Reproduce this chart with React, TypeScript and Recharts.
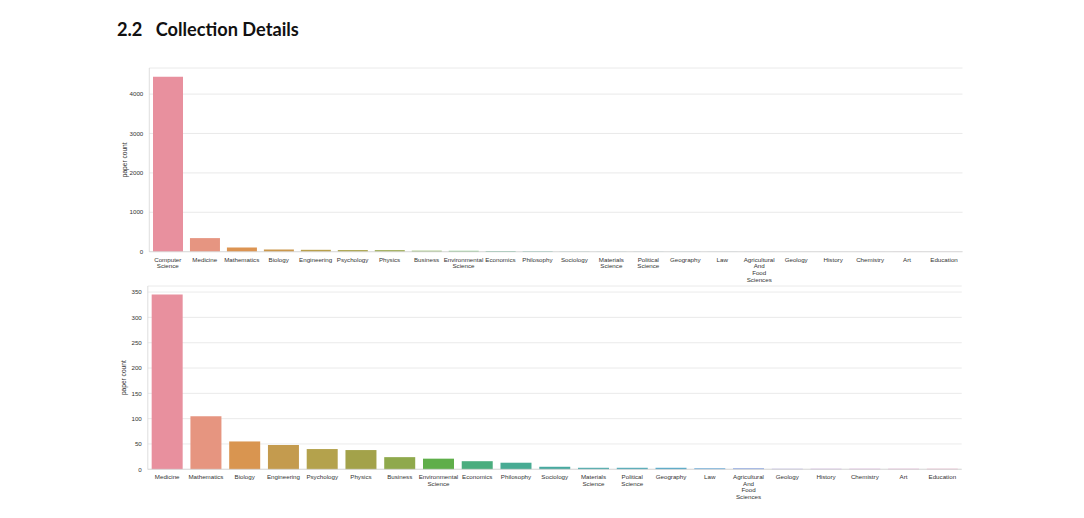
import React from 'react';
import { BarChart, Bar, XAxis, YAxis, CartesianGrid, Cell } from 'recharts';

const topCategories = [
  'Computer Science', 'Medicine', 'Mathematics', 'Biology', 'Engineering', 'Psychology',
  'Physics', 'Business', 'Environmental Science', 'Economics', 'Philosophy', 'Sociology',
  'Materials Science', 'Political Science', 'Geography', 'Law', 'Agricultural And Food Sciences',
  'Geology', 'History', 'Chemistry', 'Art', 'Education',
];
const topCounts = [4440, 345, 105, 56, 48, 41, 39, 25, 22, 17, 14, 5, 3, 3, 3, 2, 2, 1, 1, 1, 1, 1];
const topTicks = [0, 1000, 2000, 3000, 4000];
const topColors = [
  '#e8909e', '#e69581', '#dc9452', '#cb984d', '#b9a04b', '#a9a24a', '#97a64b', '#7bab4b',
  '#55ae57', '#4aad82', '#48ab95', '#48aaa0', '#49a8ab', '#4aa7b7', '#4ca5c5', '#56a2d4',
  '#749cde', '#9795e1', '#b28cde', '#c887d6', '#d886c7', '#e389b6',
];

const bottomCategories = [
  'Medicine', 'Mathematics', 'Biology', 'Engineering', 'Psychology', 'Physics', 'Business',
  'Environmental Science', 'Economics', 'Philosophy', 'Sociology', 'Materials Science',
  'Political Science', 'Geography', 'Law', 'Agricultural And Food Sciences', 'Geology',
  'History', 'Chemistry', 'Art', 'Education',
];
const bottomCounts = [345, 105, 55, 48, 40, 38, 24, 21, 16, 13, 5, 3, 3, 3, 2, 2, 1, 1, 1, 1, 1];
const bottomTicks = [0, 50, 100, 150, 200, 250, 300, 350];
const bottomColors = [
  '#e8909e', '#e69580', '#d99550', '#c49b4e', '#b4a24c', '#a3a24a', '#8fa94c', '#5fae4a',
  '#4aad7e', '#48ab93', '#48a99f', '#49a8aa', '#4aa7b6', '#4da5c6', '#5aa1d6', '#7d9bdf',
  '#9f93e1', '#bb8bdd', '#cf86d4', '#dd86c3', '#e58ab2',
];

const FONT = '"Liberation Sans", Arial, sans-serif';
const TEXT = '#333333';
const FRAME = '#d6d6d6';
const GRID = '#e4e4e4';
const FS = 6.2;

const XTick = (props: any) => {
  const { x, y, payload } = props;
  const lines = String(payload.value).split(' ');
  return (
    <text x={x} y={y} textAnchor="middle" fontSize={FS} fill={TEXT} fontFamily={FONT}>
      {lines.map((l, i) => (
        <tspan key={i} x={x} dy={i === 0 ? 9.8 : 6.67}>{l}</tspan>
      ))}
    </text>
  );
};

const YLabel = (props: any) => {
  const vb = props.viewBox || { x: 109, y: 68, width: 40, height: 184 };
  const cx = vb.x + 15.7;
  const cy = vb.y + vb.height / 2;
  return (
    <text
      x={cx}
      y={cy}
      transform={`rotate(-90 ${cx} ${cy})`}
      textAnchor="middle"
      dominantBaseline="central"
      fontSize={6.6}
      fill={TEXT}
      fontFamily={FONT}
    >
      paper count
    </text>
  );
};

type PanelProps = {
  categories: string[];
  counts: number[];
  colors: string[];
  ticks: number[];
  yMax: number;
  height: number;
  margin: { top: number; right: number; left: number; bottom: number };
};

const Panel = ({ categories, counts, colors, ticks, yMax, height, margin }: PanelProps) => {
  const data = categories.map((name, i) => ({ name, count: counts[i] }));
  return (
    <BarChart width={1084} height={height} data={data} margin={margin} barCategoryGap="10%">
      <CartesianGrid vertical={false} stroke={GRID} strokeWidth={0.8} />
      <XAxis
        dataKey="name"
        interval={0}
        height={30}
        tickLine={false}
        tickSize={0}
        tickMargin={0}
        axisLine={{ stroke: FRAME, strokeWidth: 0.8 }}
        tick={<XTick />}
      />
      <XAxis
        xAxisId="top"
        dataKey="name"
        orientation="top"
        height={0}
        tick={false}
        tickLine={false}
        axisLine={{ stroke: FRAME, strokeWidth: 0.8 }}
      />
      <YAxis
        domain={[0, yMax]}
        ticks={ticks}
        width={40}
        tickLine={false}
        tickSize={0}
        tickMargin={6}
        axisLine={{ stroke: FRAME, strokeWidth: 0.8 }}
        tick={{ fontSize: FS, fill: TEXT, fontFamily: FONT }}
        label={<YLabel />}
      />
      <YAxis
        yAxisId="right"
        orientation="right"
        domain={[0, yMax]}
        width={0}
        tick={false}
        tickLine={false}
        axisLine={{ stroke: FRAME, strokeWidth: 0.8 }}
      />
      <Bar dataKey="count" isAnimationActive={false}>
        {data.map((d, i) => (
          <Cell key={d.name} fill={colors[i]} />
        ))}
      </Bar>
    </BarChart>
  );
};

export default function App() {
  return (
    <div style={{ position: 'absolute', left: 0, top: 0, width: 1084, height: 518, background: '#fff' }}>
      <svg width={1084} height={50} style={{ position: 'absolute', left: 0, top: 0 }}>
        <text x={117} y={35.7} fontFamily="Lato, sans-serif" fontWeight={700} fontSize={18.2} fill="#111">2.2</text>
        <text x={155.7} y={35.7} fontFamily="Lato, sans-serif" fontWeight={700} fontSize={18.2} fill="#111">Collection Details</text>
      </svg>
      <div style={{ position: 'absolute', left: 0, top: 0, width: 1084, height: 290 }}>
        <Panel
          categories={topCategories}
          counts={topCounts}
          colors={topColors}
          ticks={topTicks}
          yMax={4662}
          height={290}
          margin={{ top: 68, right: 121.5, left: 109.3, bottom: 8.3 }}
        />
      </div>
      <div style={{ position: 'absolute', left: 0, top: 270, width: 1084, height: 248 }}>
        <Panel
          categories={bottomCategories}
          counts={bottomCounts}
          colors={bottomColors}
          ticks={bottomTicks}
          yMax={362}
          height={248}
          margin={{ top: 16, right: 122.3, left: 107.8, bottom: 18.7 }}
        />
      </div>
    </div>
  );
}
